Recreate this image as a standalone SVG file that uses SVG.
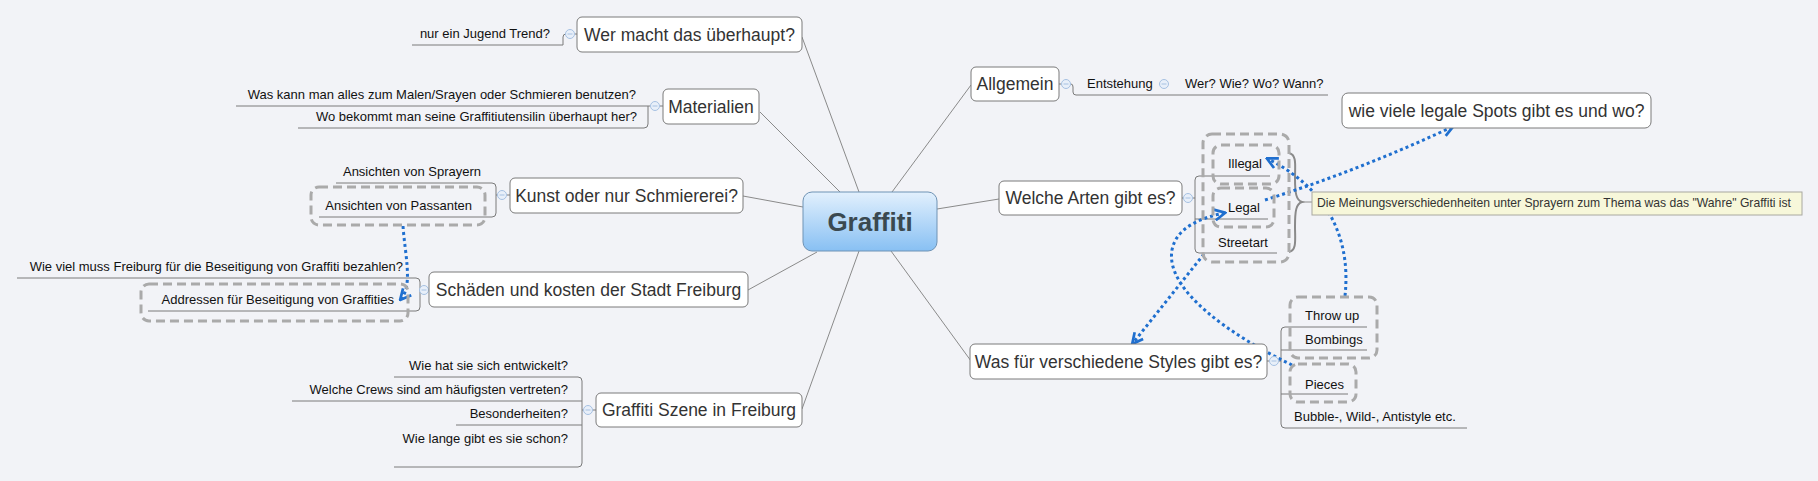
<svg xmlns="http://www.w3.org/2000/svg" width="1818" height="481" viewBox="0 0 1818 481">
<defs>
<linearGradient id="cg" x1="0" y1="0" x2="0" y2="1">
<stop offset="0" stop-color="#e2f0fd"/>
<stop offset="1" stop-color="#88c0f3"/>
</linearGradient>
<marker id="arr" viewBox="0 0 10 10" refX="8" refY="5" markerWidth="4.5" markerHeight="4.5" orient="auto" markerUnits="strokeWidth">
<path d="M1,1 L9,5 L1,9" fill="none" stroke="#1f6fcf" stroke-width="2"/>
</marker>
</defs>
<style>
.bg{fill:#f2f3f7}
.topic{fill:#ffffff;stroke:#7a7a7a;stroke-width:1}
.tt{font-family:"Liberation Sans",Arial,sans-serif;font-size:17.5px;fill:#333333;text-anchor:middle}
.st{font-family:"Liberation Sans",Arial,sans-serif;font-size:13px;fill:#111111}
.end{text-anchor:end}
.ln{fill:none;stroke:#8a8a8a;stroke-width:1}
.ul{fill:none;stroke:#7a7a7a;stroke-width:1}
.bd{fill:none;stroke:#aaaaaa;stroke-width:3;stroke-dasharray:9 5}
.rel{fill:none;stroke:#1f6fcf;stroke-width:3;stroke-dasharray:3 3;marker-end:url(#arr)}
.cb{fill:#e8eff9;stroke:#a6c1e2;stroke-width:1}
.cm{stroke:#a6c1e2;stroke-width:1}
</style>
<rect class="bg" x="0" y="0" width="1818" height="481"/>

<g id="connectors">
<path class="ln" d="M859,192 L802,37"/>
<path class="ln" d="M840,192 L760,112"/>
<path class="ln" d="M803,207 L743,196"/>
<path class="ln" d="M817,252 L748,290"/>
<path class="ln" d="M859,251 L802,409"/>
<path class="ln" d="M892,192 L971,85"/>
<path class="ln" d="M937,209 L999,199"/>
<path class="ln" d="M891,251 L971,361"/>
<!-- sub connectors -->
<path class="ul" d="M577,34 L575,34 M566,34 Q563,34 563,37 L563,45 L412,45"/>
<path class="ul" d="M663,106 L660,106 M650,106 L236,106 M648,106 L648,124 Q648,128 644,128 L298,128"/>
<path class="ul" d="M510,195 L507,195 M497,195 L496,195 M336,183 L492,183 Q496,183 496,187 L496,213 Q496,217 492,217 L319,217"/>
<path class="ul" d="M419,290 L420,290 M17,278 L416,278 Q420,278 420,282 L420,307 Q420,311 416,311 L148,311"/>
<path class="ul" d="M596,410 L593,410 M583,410 L582,410 M394,377 L578,377 Q582,377 582,381 L582,463 Q582,467 578,467 L394,467 M292,401 L582,401 M456,425 L582,425"/>
<path class="ul" d="M1059,84 L1061,84 M1071,84 Q1073,84 1073,87 L1073,92 Q1073,95 1076,95 L1328,95"/>
<path class="ul" d="M1182,198 L1183,198 M1193,198 L1195,198 M1270,176 L1199,176 Q1195,176 1195,180 L1195,249 Q1195,253 1199,253 L1277,253 M1195,219 L1268,219"/>
<path class="ul" d="M1267,361 L1269,361 M1279,361 L1281,361 M1367,327 L1285,327 Q1281,327 1281,331 L1281,424 Q1281,428 1285,428 L1467,428 M1281,350 L1367,350 M1281,394 L1348,394"/>
<!-- brace + callout link -->
<path d="M1289,153 C1297,155 1295,165 1295,178 C1295,193 1296,200 1302,202 C1296,204 1295,211 1295,226 C1295,240 1297,250 1289,252" fill="none" stroke="#8a8a8a" stroke-width="2"/>
<path class="ln" d="M1302,202 L1312,202"/>
<!-- relationships -->
<path class="rel" d="M1265,200 Q1360,170 1452,127"/>
<path class="rel" d="M1345,296 C1352,230 1320,185 1268,159"/>
<path class="rel" d="M1204,254 L1133,343"/>
<path class="rel" d="M1292,365 C1230,335 1165,290 1172,250 C1176,228 1200,218 1224,213"/>
<path class="rel" d="M403,226 C405,255 413,285 401,299"/>
</g>

<g id="collapse">
<circle class="cb" cx="570" cy="34" r="4.5"/><path class="cm" d="M567.5,34 H572.5"/>
<circle class="cb" cx="655" cy="106" r="4.5"/><path class="cm" d="M652.5,106 H657.5"/>
<circle class="cb" cx="502" cy="195" r="4.5"/><path class="cm" d="M499.5,195 H504.5"/>
<circle class="cb" cx="424" cy="290" r="4.5"/><path class="cm" d="M421.5,290 H426.5"/>
<circle class="cb" cx="588" cy="410" r="4.5"/><path class="cm" d="M585.5,410 H590.5"/>
<circle class="cb" cx="1066" cy="84" r="4.5"/><path class="cm" d="M1063.5,84 H1068.5"/>
<circle class="cb" cx="1164" cy="84" r="4.5"/><path class="cm" d="M1161.5,84 H1166.5"/>
<circle class="cb" cx="1188" cy="198" r="4.5"/><path class="cm" d="M1185.5,198 H1190.5"/>
<circle class="cb" cx="1274" cy="361" r="4.5"/><path class="cm" d="M1271.5,361 H1276.5"/>
</g>

<g id="boundaries">
<rect class="bd" x="311" y="187" width="174" height="38" rx="8"/>
<rect class="bd" x="141" y="284" width="267" height="37" rx="8"/>
<rect class="bd" x="1203" y="134" width="86" height="128" rx="9"/>
<rect class="bd" x="1213" y="145" width="66" height="39" rx="8"/>
<rect class="bd" x="1213" y="188" width="61" height="39" rx="8"/>
<rect class="bd" x="1290" y="297" width="87" height="61" rx="8"/>
<rect class="bd" x="1290" y="364" width="66" height="38" rx="8"/>
</g>

<g id="central">
<rect x="803" y="192" width="134" height="59" rx="9" fill="url(#cg)" stroke="#6f93b5" stroke-width="1"/>
<text x="870" y="231" style="font-family:'Liberation Sans',Arial,sans-serif;font-size:26px;font-weight:bold;fill:#3a4950;text-anchor:middle">Graffiti</text>
</g>

<g id="wer-macht">
<rect class="topic" x="577" y="17" width="225" height="35" rx="5"/>
<text class="tt" x="689.5" y="40.5">Wer macht das überhaupt?</text>
<text class="st end" x="550" y="38">nur ein Jugend Trend?</text>
</g>

<g id="materialien">
<rect class="topic" x="663" y="89" width="96" height="35" rx="5"/>
<text class="tt" x="711" y="112.5">Materialien</text>
<text class="st end" x="636" y="99">Was kann man alles zum Malen/Srayen oder Schmieren benutzen?</text>
<text class="st end" x="637" y="121">Wo bekommt man seine Graffitiutensilin überhaupt her?</text>
</g>

<g id="kunst">
<rect class="topic" x="510" y="178" width="233" height="35" rx="5"/>
<text class="tt" x="626.5" y="201.5">Kunst oder nur Schmiererei?</text>
<text class="st end" x="481" y="176">Ansichten von Sprayern</text>
<text class="st end" x="472" y="210">Ansichten von Passanten</text>
</g>

<g id="schaeden">
<rect class="topic" x="429" y="272" width="319" height="35" rx="5"/>
<text class="tt" x="588.5" y="295.5">Schäden und kosten der Stadt Freiburg</text>
<text class="st end" x="403" y="271">Wie viel muss Freiburg für die Beseitigung von Graffiti bezahlen?</text>
<text class="st end" x="394" y="304">Addressen für Beseitigung von Graffities</text>
</g>

<g id="szene">
<rect class="topic" x="596" y="393" width="206" height="34" rx="5"/>
<text class="tt" x="699" y="416">Graffiti Szene in Freiburg</text>
<text class="st end" x="568" y="370">Wie hat sie sich entwickelt?</text>
<text class="st end" x="568" y="394">Welche Crews sind am häufigsten vertreten?</text>
<text class="st end" x="568" y="418">Besonderheiten?</text>
<text class="st end" x="568" y="443">Wie lange gibt es sie schon?</text>
</g>

<g id="allgemein">
<rect class="topic" x="971" y="67" width="88" height="34" rx="5"/>
<text class="tt" x="1015" y="90">Allgemein</text>
<text class="st" x="1087" y="88">Entstehung</text>
<text class="st" x="1185" y="88">Wer? Wie? Wo? Wann?</text>
</g>

<g id="spots">
<rect class="topic" x="1342" y="93" width="309" height="35" rx="6"/>
<text class="tt" x="1496.5" y="116.5">wie viele legale Spots gibt es und wo?</text>
</g>

<g id="arten">
<rect class="topic" x="999" y="181" width="183" height="34" rx="5"/>
<text class="tt" x="1090.5" y="204">Welche Arten gibt es?</text>
<text class="st" x="1228" y="168">Illegal</text>
<text class="st" x="1228" y="212">Legal</text>
<text class="st" x="1218" y="247">Streetart</text>
</g>

<g id="callout">
<rect x="1312" y="192" width="490" height="23" fill="#f7f7da" stroke="#a8a8a0" stroke-width="1"/>
<text class="st" x="1317" y="207" textLength="474" lengthAdjust="spacingAndGlyphs" style="fill:#333333;font-size:12.4px">Die Meinungsverschiedenheiten unter Sprayern zum Thema was das "Wahre" Graffiti ist</text>
</g>

<g id="styles">
<rect class="topic" x="970" y="344" width="297" height="35" rx="5"/>
<text class="tt" x="1118.5" y="367.5">Was für verschiedene Styles gibt es?</text>
<text class="st" x="1305" y="320">Throw up</text>
<text class="st" x="1305" y="344">Bombings</text>
<text class="st" x="1305" y="389">Pieces</text>
<text class="st" x="1294" y="421">Bubble-, Wild-, Antistyle etc.</text>
</g>
</svg>
